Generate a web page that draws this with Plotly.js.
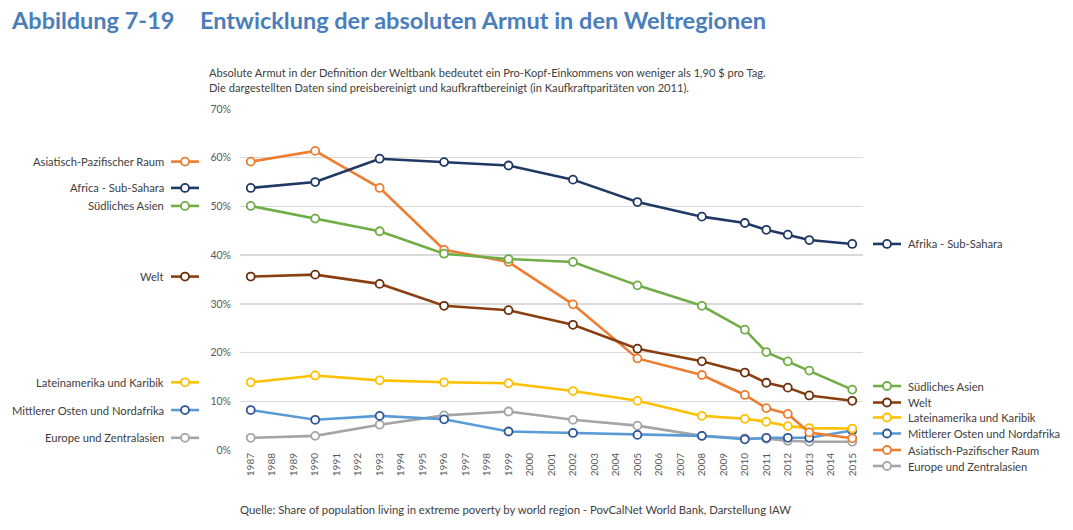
<!DOCTYPE html>
<html>
<head>
<meta charset="utf-8">
<script src="https://cdn.plot.ly/plotly-3.0.1.min.js"></script>
<style>
  html, body { margin: 0; padding: 0; background: #ffffff; }
  #chart { width: 1073px; height: 530px; }
</style>
</head>
<body>
<div id="chart"></div>
<script>
// Survey years
const years = [1987, 1990, 1993, 1996, 1999, 2002, 2005, 2008, 2010, 2011, 2012, 2013, 2015];

// Share of population in absolute poverty (%), per region
const afrika      = [53.8, 55.0, 59.8, 59.1, 58.4, 55.5, 50.9, 47.9, 46.6, 45.2, 44.2, 43.1, 42.3];
const asienPazif  = [59.2, 61.4, 53.8, 41.1, 38.6, 29.9, 18.8, 15.4, 11.3, 8.6, 7.4, 3.6, 2.4];
const suedAsien   = [50.1, 47.5, 44.9, 40.3, 39.2, 38.6, 33.8, 29.6, 24.7, 20.1, 18.2, 16.3, 12.4];
const welt        = [35.6, 36.0, 34.1, 29.6, 28.7, 25.7, 20.8, 18.2, 15.9, 13.8, 12.8, 11.2, 10.1];
const lateinAm    = [13.9, 15.3, 14.3, 13.9, 13.7, 12.1, 10.1, 7.0, 6.4, 5.8, 4.9, 4.5, 4.4];
const mittlOsten  = [8.2, 6.2, 7.0, 6.3, 3.8, 3.5, 3.1, 2.9, 2.2, 2.5, 2.5, 2.5, 4.0];
const europa      = [2.5, 2.9, 5.2, 7.1, 7.9, 6.2, 5.0, 2.9, 2.4, 2.3, 1.9, 1.7, 1.7];

// Labels on the left (at the first value) and on the right side
const leftNames = {
  asienPazif: "Asiatisch-Pazifischer Raum",
  afrika: "Africa - Sub-Sahara",
  suedAsien: "Südliches Asien",
  welt: "Welt",
  lateinAm: "Lateinamerika und Karibik",
  mittlOsten: "Mittlerer Osten und Nordafrika",
  europa: "Europe und Zentralasien"
};
const rightNames = {
  afrika: "Afrika - Sub-Sahara",
  suedAsien: "Südliches Asien",
  welt: "Welt",
  lateinAm: "Lateinamerika und Karibik",
  mittlOsten: "Mittlerer Osten und Nordafrika",
  asienPazif: "Asiatisch-Pazifischer Raum",
  europa: "Europe und Zentralasien"
};

const yTickVals = [0, 10, 20, 30, 40, 50, 60, 70];
const yTickText = ["0%", "10%", "20%", "30%", "40%", "50%", "60%", "70%"];
const xTickVals = [];
for (let y = 1987; y <= 2015; y++) xTickVals.push(y);

const series = [
  { key: "europa",     data: europa,     line: "#a5a5a5", mark: "#a5a5a5" },
  { key: "mittlOsten", data: mittlOsten, line: "#5b9bd5", mark: "#2f5597" },
  { key: "lateinAm",   data: lateinAm,   line: "#ffc000", mark: "#ffc000" },
  { key: "asienPazif", data: asienPazif, line: "#ed7d31", mark: "#ed7d31" },
  { key: "welt",       data: welt,       line: "#8a3f10", mark: "#6b2f0c" },
  { key: "suedAsien",  data: suedAsien,  line: "#70ad47", mark: "#70ad47" },
  { key: "afrika",     data: afrika,     line: "#1f3864", mark: "#1f3864" }
];

const traces = series.map(s => ({
  type: "scatter",
  mode: "lines+markers",
  x: years,
  y: s.data,
  name: leftNames[s.key],
  line: { color: s.line, width: 2.6 },
  marker: { symbol: "circle", size: 8, color: "#ffffff", line: { color: s.mark, width: 1.8 } },
  hoverinfo: "skip"
}));

// Plot area geometry (px) used to place the side labels in paper units
const plotL = 240, plotR = 863, plotT = 109, plotB = 450;
const pw = plotR - plotL, ph = plotB - plotT;
const px2paperX = p => (p - plotL) / pw;
const px2paperY = p => (plotB - p) / ph;

const shapes = [];
const annotations = [];
const labelFont = { family: "Lato, 'Open Sans', sans-serif", size: 11.2, color: "#404040" };

function addIcon(cx, yVal, yref, s) {
  // short line with an open circle in the middle
  shapes.push({
    type: "line", xref: "paper", yref: yref, xsizemode: "pixel", xanchor: px2paperX(cx),
    x0: -14, x1: 14, y0: yVal, y1: yVal,
    line: { color: s.line, width: 2.6 }, layer: "above"
  });
  shapes.push({
    type: "circle", xref: "paper", yref: yref,
    xsizemode: "pixel", ysizemode: "pixel",
    xanchor: px2paperX(cx), yanchor: yVal,
    x0: -4, x1: 4, y0: -4, y1: 4,
    fillcolor: "#ffffff", line: { color: s.mark, width: 1.8 }, layer: "above"
  });
}

// Left side: one label per series at its first value
series.forEach(s => {
  const v = s.data[0];
  addIcon(185, v, "y", s);
  annotations.push({
    xref: "paper", yref: "y", x: px2paperX(166), y: v,
    xanchor: "right", yanchor: "middle", showarrow: false,
    text: leftNames[s.key], font: labelFont
  });
});

// Right side: Afrika at its last value, the rest stacked below
const rightStack = [
  { key: "suedAsien",  py: 386 },
  { key: "welt",       py: 402.5 },
  { key: "lateinAm",   py: 417.5 },
  { key: "mittlOsten", py: 433.5 },
  { key: "asienPazif", py: 450 },
  { key: "europa",     py: 466 }
];
const byKey = {};
series.forEach(s => byKey[s.key] = s);

const afr = byKey.afrika;
addIcon(887, afr.data[afr.data.length - 1], "y", afr);
annotations.push({
  xref: "paper", yref: "y", x: px2paperX(906), y: afr.data[afr.data.length - 1],
  xanchor: "left", yanchor: "middle", showarrow: false,
  text: rightNames.afrika, font: labelFont
});
rightStack.forEach(r => {
  const s = byKey[r.key];
  const yp = px2paperY(r.py);
  addIcon(887, yp, "paper", s);
  annotations.push({
    xref: "paper", yref: "paper", x: px2paperX(906), y: yp,
    xanchor: "left", yanchor: "middle", showarrow: false,
    text: rightNames[r.key], font: labelFont
  });
});

// Headline, note and source
const titleFont = { family: "Lato, 'Open Sans', sans-serif", size: 23.5, color: "#4a7ebb", weight: 700 };
annotations.push({
  xref: "paper", yref: "paper", x: px2paperX(9), y: px2paperY(20),
  xanchor: "left", yanchor: "middle", showarrow: false,
  text: "<b>Abbildung 7-19</b>", font: titleFont
});
annotations.push({
  xref: "paper", yref: "paper", x: px2paperX(198), y: px2paperY(20),
  xanchor: "left", yanchor: "middle", showarrow: false,
  text: "<b>Entwicklung der absoluten Armut in den Weltregionen</b>", font: titleFont
});
const noteFont = { family: "Lato, sans-serif", size: 11.1, color: "#404040" };
annotations.push({
  xref: "paper", yref: "paper", x: px2paperX(207), y: px2paperY(72),
  xanchor: "left", yanchor: "middle", showarrow: false, align: "left",
  text: "Absolute Armut in der Definition der Weltbank bedeutet ein Pro-Kopf-Einkommens von weniger als 1,90 $ pro Tag.",
  font: noteFont
});
annotations.push({
  xref: "paper", yref: "paper", x: px2paperX(207), y: px2paperY(87),
  xanchor: "left", yanchor: "middle", showarrow: false, align: "left",
  text: "Die dargestellten Daten sind preisbereinigt und kaufkraftbereinigt (in Kaufkraftparitäten von 2011).",
  font: noteFont
});
annotations.push({
  xref: "paper", yref: "paper", x: px2paperX(238), y: px2paperY(509),
  xanchor: "left", yanchor: "middle", showarrow: false,
  text: "Quelle: Share of population living in extreme poverty by world region - PovCalNet World Bank, Darstellung IAW",
  font: { family: "Lato, sans-serif", size: 11.3, color: "#404040" }
});

const layout = {
  width: 1073, height: 530,
  margin: { l: plotL, r: 1073 - plotR, t: plotT, b: 530 - plotB, pad: 0 },
  paper_bgcolor: "#ffffff", plot_bgcolor: "#ffffff",
  showlegend: false,
  xaxis: {
    range: [1986.5, 2015.5], tickmode: "array", tickvals: xTickVals,
    tickangle: -90, ticks: "", showgrid: false, zeroline: false,
    showline: false,
    tickfont: { family: "Lato, sans-serif", size: 10, color: "#595959" },
    fixedrange: true
  },
  yaxis: {
    range: [0, 70], tickmode: "array", tickvals: yTickVals, ticktext: yTickText,
    showgrid: true, gridcolor: "#d9d9d9", gridwidth: 1.5, zeroline: false,
    showline: false, ticks: "", ticklabelstandoff: 8,
    tickfont: { family: "Lato, sans-serif", size: 10.5, color: "#595959" },
    fixedrange: true
  },
  shapes: shapes,
  annotations: annotations
};

Plotly.newPlot("chart", traces, layout, { staticPlot: true, displayModeBar: false });
</script>
</body>
</html>
